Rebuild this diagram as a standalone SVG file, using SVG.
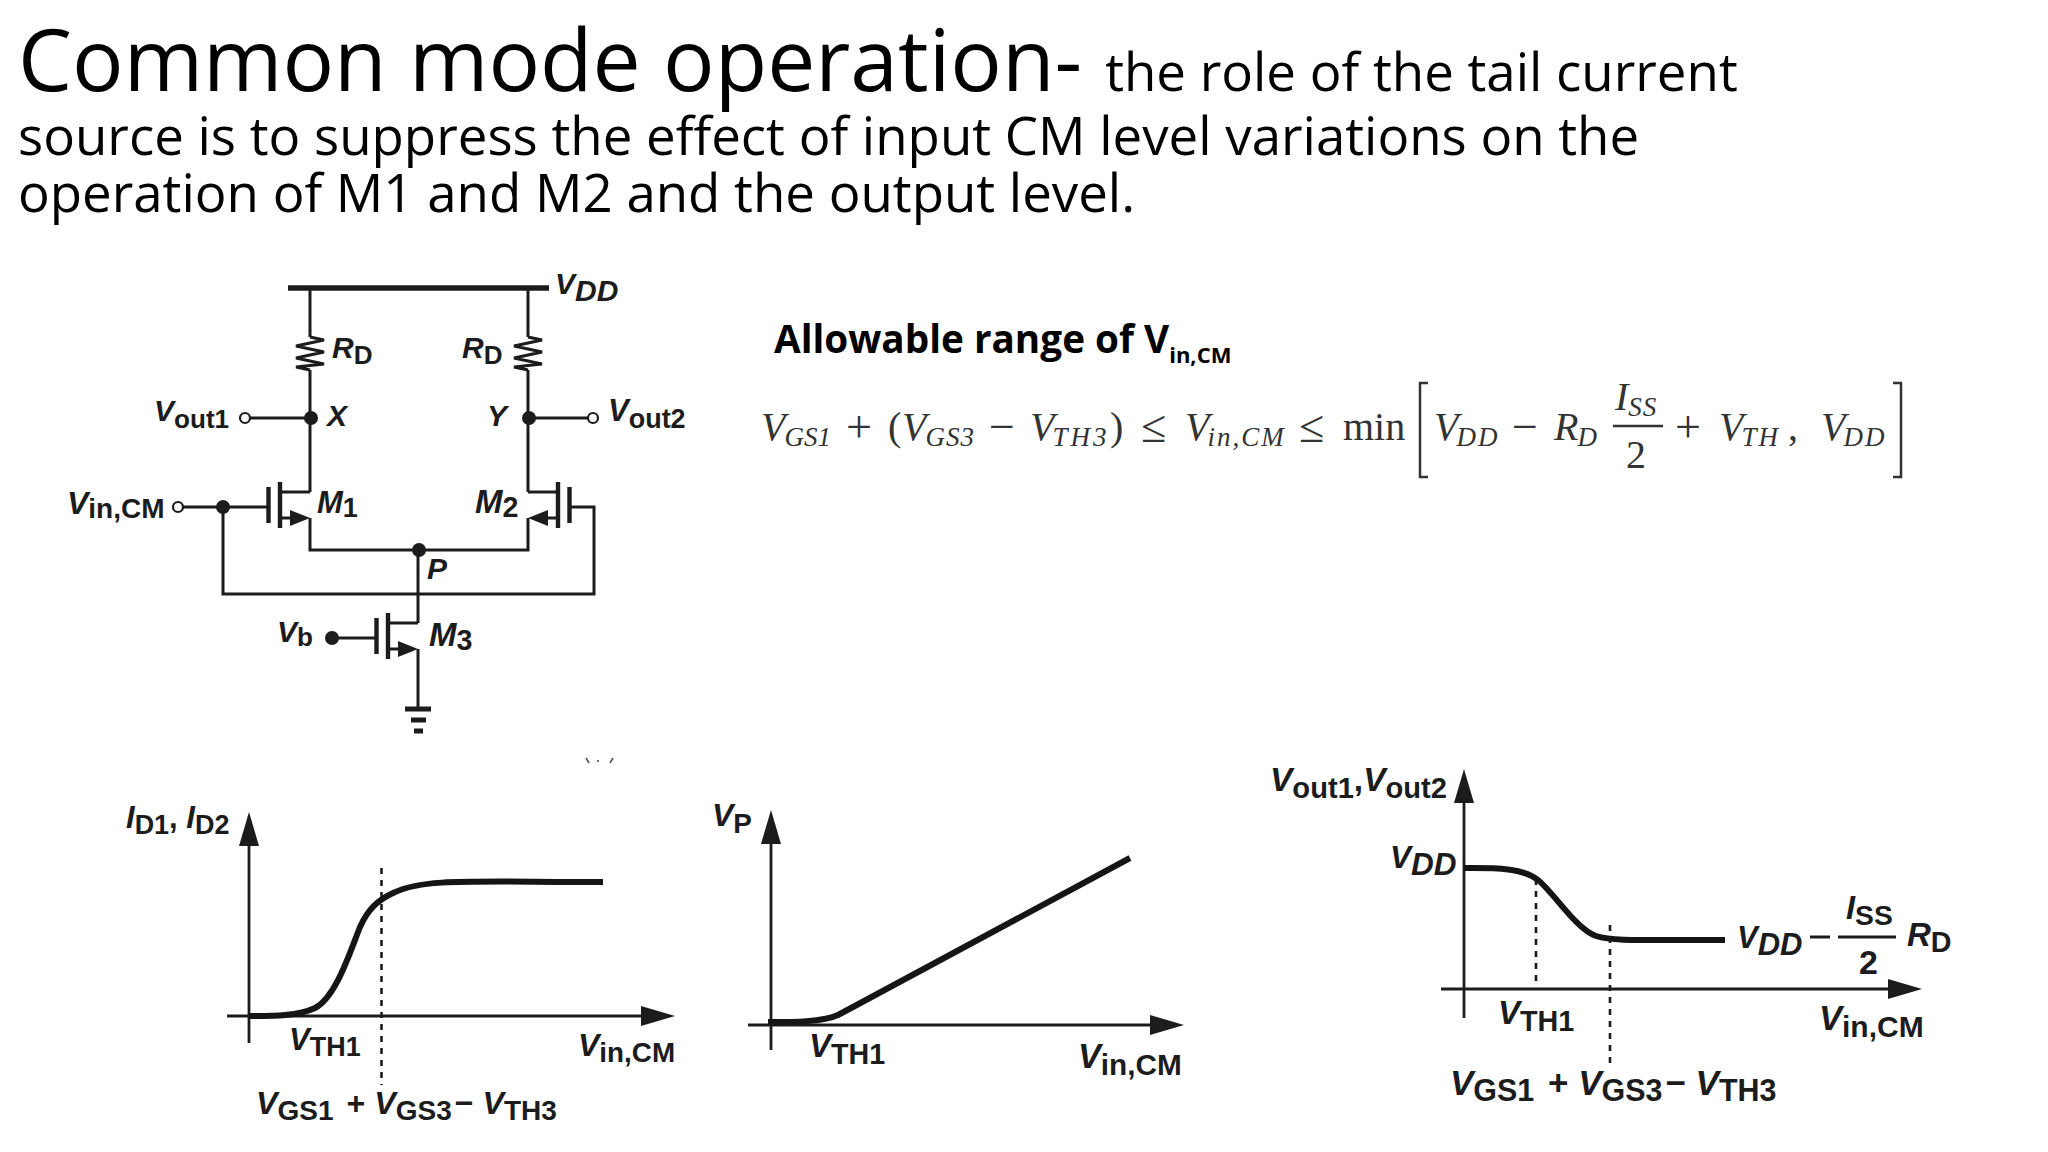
<svg xmlns="http://www.w3.org/2000/svg" xmlns:xlink="http://www.w3.org/1999/xlink" width="2048" height="1152" viewBox="0 0 2048 1152">
<style>
text{white-space:pre}
.h{font-family:"Open Sans","Noto Sans",sans-serif;fill:#000}
.t1{font-size:85.8px}.t2{font-size:52.8px}
.b{font-family:"Open Sans","Noto Sans",sans-serif;font-weight:700;font-size:38.7px;fill:#000}
.l{font-family:"Liberation Sans",Arial,sans-serif;font-weight:700;fill:#1c1c1c}
.v{font-style:italic}
.s{font-size:.87em;font-style:normal}
.m{font-family:"Liberation Serif","Times New Roman",serif;fill:#333;font-size:40px}
.op{font-size:46px}
.i{font-style:italic}
.ms{font-size:27px;font-style:italic}
.w{fill:none;stroke:#1c1c1c;stroke-width:3}
.bar{fill:none;stroke:#1c1c1c;stroke-width:4.4}
.k{fill:#1c1c1c;stroke:none}
.c{fill:#fff;stroke:#1c1c1c;stroke-width:2.2}
.ax{fill:none;stroke:#1c1c1c;stroke-width:2.8}
.cv{fill:none;stroke:#151515;stroke-width:6}
.d{fill:none;stroke:#1c1c1c;stroke-width:2.6;stroke-dasharray:6 6}
</style>
<defs>
<marker id="ah" markerUnits="userSpaceOnUse" markerWidth="36" markerHeight="22" viewBox="0 0 36 22" refX="4" refY="11" orient="auto"><path d="M0 1L34 11L0 21Z" fill="#1c1c1c"/></marker>
<g id="nmos"><path class="w" d="M-30 0H0M-30 26H-20"/><path class="bar" d="M-30-10V36M-41.5-5V31"/><path class="k" d="M-20 18L0 26L-20 34Z"/></g>
<path id="res" class="w" d="M0 0L14 3L-14 9L14 15L-14 21L14 27L-14 30L0 33"/>
</defs>
<rect width="2048" height="1152" fill="#fff"/>
<g id="title">
<text class="h t1" x="18" y="91">Common mode operation-<tspan class="t2" dx="23">the role of the tail current</tspan></text>
<text class="h t2" x="18" y="155">source is to suppress the effect of input CM level variations on the</text>
<text class="h t2" x="18" y="212">operation of M1 and M2 and the output level.</text>
</g>
<g id="connectors">
<path class="w" d="M310 289V337M310 370V492M528 289V337M528 370V492"/>
<path class="w" d="M245 418H310M528 418H592"/>
<path class="w" d="M178 507H268M223 507V594H594V507H570"/>
<path class="w" d="M310 518V550H528V518M418 550V623M418 649V707M330 638H377"/>
</g>
<g id="vdd"><path stroke="#1c1c1c" stroke-width="5.5" d="M288 288H549"/><text class="l v" font-size="30" x="555" y="294">V<tspan dy="7">DD</tspan></text></g>
<g id="rd1"><use href="#res" xlink:href="#res" x="310" y="337"/><text class="l v" font-size="30" x="332" y="358">R<tspan class="s" dy="6">D</tspan></text></g>
<g id="rd2"><use href="#res" xlink:href="#res" x="528" y="337"/><text class="l v" font-size="30" x="462" y="358">R<tspan class="s" dy="6">D</tspan></text></g>
<g id="nodeX"><circle class="k" cx="311" cy="418" r="7"/><text class="l v" font-size="30" x="327" y="426">X</text></g>
<g id="nodeY"><circle class="k" cx="529" cy="418" r="7"/><text class="l v" font-size="30" x="487" y="426">Y</text></g>
<g id="vout1"><circle class="c" cx="245" cy="418" r="5"/><text class="l v" font-size="30" x="154" y="421">V<tspan class="s" dy="7">out1</tspan></text></g>
<g id="vout2"><circle class="c" cx="593" cy="418" r="5"/><text class="l v" font-size="31" x="608" y="421">V<tspan class="s" dy="7">out2</tspan></text></g>
<g id="vincm"><circle class="c" cx="178" cy="507" r="5"/><circle class="k" cx="223" cy="507" r="7"/><text class="l v" font-size="32" x="67" y="514">V<tspan dy="4" font-size="28" font-style="normal">in,CM</tspan></text></g>
<g id="M1"><use href="#nmos" xlink:href="#nmos" transform="translate(310 492)"/><text class="l v" font-size="31" x="317" y="513">M<tspan class="s" dy="4">1</tspan></text></g>
<g id="M2"><use href="#nmos" xlink:href="#nmos" transform="translate(528 492) scale(-1 1)"/><text class="l v" font-size="33" x="475" y="513">M<tspan class="s" dy="4">2</tspan></text></g>
<g id="nodeP"><circle class="k" cx="419" cy="550" r="7"/><text class="l v" font-size="30" x="427" y="579">P</text></g>
<g id="M3"><use href="#nmos" xlink:href="#nmos" transform="translate(418 623)"/><text class="l v" font-size="33" x="429" y="646">M<tspan class="s" dy="4">3</tspan></text></g>
<g id="vb"><circle class="k" cx="332" cy="638" r="7"/><text class="l v" font-size="30" x="277" y="642">V<tspan class="s" dy="4">b</tspan></text></g>
<g id="gnd"><path stroke="#1c1c1c" stroke-width="5" d="M405 709H431M411 720H426M414 731H423"/></g>
<path d="M586 758l3 5M598 760v2M610 763l3-5" stroke="#555" stroke-width="1.6" fill="none"/>
<g id="range-label"><text class="b" x="774" y="353">Allowable range of V<tspan font-size="22" dy="10">in,CM</tspan></text></g>
<g id="formula">
<text class="m i" x="761" y="440">V<tspan class="ms" dy="6" dx="-1">GS1</tspan></text>
<text class="m op" x="846" y="442">+</text><text class="m" x="888" y="440">(</text>
<text class="m i" x="902" y="440">V<tspan class="ms" dy="6" dx="-1" letter-spacing="1">GS3</tspan></text>
<text class="m op" x="989" y="442">−</text>
<text class="m i" x="1030" y="440">V<tspan class="ms" dy="6" dx="-2" letter-spacing="3">TH3</tspan></text>
<text class="m" x="1110" y="440">)</text><text class="m op" x="1141" y="442">≤</text>
<text class="m i" x="1185" y="440">V<tspan class="ms" dy="6" dx="-2" letter-spacing="2">in,CM</tspan></text>
<text class="m op" x="1299" y="442">≤</text><text class="m" x="1343" y="440">min</text>
<path d="M1428 383H1420V477H1428" fill="none" stroke="#333" stroke-width="2.5"/>
<text class="m i" x="1434" y="440">V<tspan class="ms" dy="6" dx="-2" letter-spacing="2">DD</tspan></text>
<text class="m op" x="1512" y="442">−</text>
<text class="m i" x="1554" y="440">R<tspan class="ms" dy="6" dx="-1">D</tspan></text>
<path d="M1613 426H1663" stroke="#333" stroke-width="2.5"/>
<text class="m i" x="1615" y="410">I<tspan class="ms" dy="6" letter-spacing="1">SS</tspan></text>
<text class="m" x="1626" y="468">2</text>
<text class="m op" x="1675" y="442">+</text>
<text class="m i" x="1719" y="440">V<tspan class="ms" dy="6" dx="-2" letter-spacing="2">TH</tspan></text>
<text class="m" x="1788" y="440">,</text>
<text class="m i" x="1821" y="440">V<tspan class="ms" dy="6" dx="-2" letter-spacing="2">DD</tspan></text>
<path d="M1902 383H1910V477H1902" fill="none" stroke="#333" stroke-width="2.5" transform="translate(-9 0)"/>
</g>
<g id="plot-id">
<path class="ax" d="M249 1043V842" marker-end="url(#ah)"/><path class="ax" d="M227 1019H645" transform="translate(0 -3)" marker-end="url(#ah)"/>
<path class="d" d="M384 868V1085" transform="translate(-2.5 0)"/>
<path class="cv" d="M249 1019C275 1019 298 1019 315 1011C336 1000 350 955 360 930C368 912 378 903 393 896C423 881 470 885 603 885" transform="translate(0 -3)"/>
<text class="l v" font-size="31" x="289" y="1050">V<tspan class="s" dy="6">TH1</tspan></text>
<text class="l v" font-size="32" x="578" y="1056">V<tspan class="s" dy="6">in,CM</tspan></text>
<text class="l v" font-size="32.2" x="256" y="1114">V<tspan class="s" dy="6">GS1</tspan><tspan font-style="normal" dy="-6" dx="4"> +</tspan> V<tspan class="s" dy="6">GS3</tspan><tspan font-style="normal" dy="-6" dx="3">−</tspan> V<tspan class="s" dy="6">TH3</tspan></text>
<text class="l v" font-size="31" x="126" y="828">I<tspan class="s" dy="6">D1</tspan><tspan dy="-6" font-style="normal">,</tspan> I<tspan class="s" dy="6">D2</tspan></text>
</g>
<g id="plot-vp">
<path class="ax" d="M771 1050V840" marker-end="url(#ah)"/><path class="ax" d="M748 1029H1154" transform="translate(0 -4)" marker-end="url(#ah)"/>
<path class="cv" d="M771 1024C796 1024 826 1024 841 1017L856 1009L1133 860" transform="translate(-3 -2)"/>
<text class="l v" font-size="32" x="712" y="826">V<tspan class="s" dy="7">P</tspan></text>
<text class="l v" font-size="33" x="809" y="1057">V<tspan class="s" dy="7">TH1</tspan></text>
<text class="l v" font-size="34.2" x="1078" y="1068">V<tspan class="s" dy="7">in,CM</tspan></text>
</g>
<g id="plot-vout">
<path class="ax" d="M1464 1018V799" marker-end="url(#ah)"/><path class="ax" d="M1441 989H1892" marker-end="url(#ah)"/>
<path class="d" d="M1544 884V989M1618 930V1068" transform="translate(-8 -5)"/>
<path class="cv" d="M1472 873C1500 873 1530 872 1546 885C1562 898 1585 935 1604 941C1620 946 1640 945 1733 945" transform="translate(-8 -5)"/>
<text class="l v" font-size="33.5" x="1270" y="791">V<tspan class="s" dy="7">out1</tspan><tspan dy="-7" font-style="normal">,</tspan>V<tspan class="s" dy="7">out2</tspan></text>
<text class="l v" font-size="31.5" x="1390" y="868">V<tspan dy="7">DD</tspan></text>
<text class="l v" font-size="31" x="1737" y="948">V<tspan dy="7">DD</tspan></text>
<path stroke="#1c1c1c" stroke-width="2.8" d="M1820 940H1840M1848 940H1906" transform="translate(-10 -3)"/>
<text class="l v" font-size="32.5" x="1846" y="919">I<tspan class="s" dy="6">SS</tspan></text>
<text class="l" font-size="34" x="1859" y="974">2</text>
<text class="l v" font-size="33" x="1907" y="946">R<tspan class="s" dy="6">D</tspan></text>
<text class="l v" font-size="33" x="1498" y="1024">V<tspan class="s" dy="7">TH1</tspan></text>
<text class="l v" font-size="34.5" x="1819" y="1030">V<tspan class="s" dy="7">in,CM</tspan></text>
<text class="l v" font-size="35" x="1450" y="1095">V<tspan class="s" dy="6">GS1</tspan><tspan font-style="normal" dy="-6" dx="4"> +</tspan> V<tspan class="s" dy="6">GS3</tspan><tspan font-style="normal" dy="-6" dx="3">−</tspan> V<tspan class="s" dy="6">TH3</tspan></text>
</g>
</svg>
